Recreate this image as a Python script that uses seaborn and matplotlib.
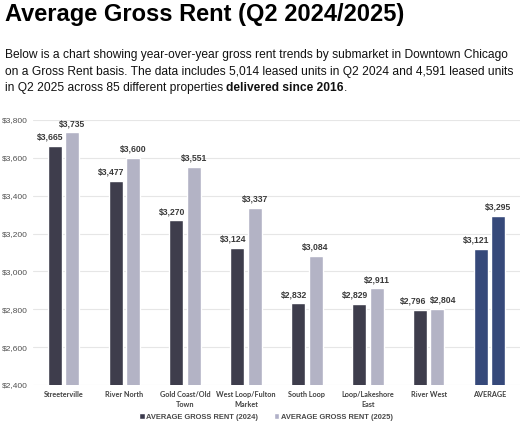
import pandas as pd
import seaborn as sns
import matplotlib.pyplot as plt
from matplotlib.patches import Patch

submarkets = ['Streeterville', 'River North', 'Gold Coast/Old\nTown', 'West Loop/Fulton\nMarket',
              'South Loop', 'Loop/Lakeshore\nEast', 'River West', 'AVERAGE']
rent_2024 = [3665, 3477, 3270, 3124, 2832, 2829, 2796, 3121]
rent_2025 = [3735, 3600, 3551, 3337, 3084, 2911, 2804, 3295]
series = ['AVERAGE GROSS RENT (2024)', 'AVERAGE GROSS RENT (2025)']
yticks = [2400, 2600, 2800, 3000, 3200, 3400, 3600, 3800]

df = pd.DataFrame({
    'submarket': submarkets * 2,
    'rent': rent_2024 + rent_2025,
    'series': [series[0]] * len(submarkets) + [series[1]] * len(submarkets),
})

sns.set_style('white')
plt.rcParams['font.family'] = ['Liberation Sans', 'DejaVu Sans']

c_dark = '#3c3b4e'
c_light = '#b0b0c8'
c_avg = '#36497a'

fig = plt.figure(figsize=(5.26, 4.26), dpi=100)
ax = fig.add_axes([33 / 526, 41 / 426, 487 / 526, 265 / 426])

sns.barplot(data=df, x='submarket', y='rent', hue='series', palette=[c_dark, c_light],
            width=0.574, gap=0.2, ax=ax, legend=False)

# average bars in navy
for cont in ax.containers:
    cont.patches[-1].set_facecolor(c_avg)

for i, cont in enumerate(ax.containers):
    for j, bar in enumerate(cont.patches):
        v = bar.get_height()
        close = abs(rent_2024[j] - rent_2025[j]) < 40
        if i == 0:
            dx = -5 if close else -3
        else:
            dx = 4 if close else 0
        ax.annotate(f'${v:,.0f}', (bar.get_x() + bar.get_width() / 2, v),
                    xytext=(dx, 3), textcoords='offset points', ha='center', va='bottom',
                    fontsize=6.2, fontweight='bold', color='#3a3a3a')

ax.set_ylim(2400, 3800)
ax.set_yticks(yticks)
ax.set_yticklabels([f'${t:,}' for t in yticks], fontsize=6, color='#505050')
ax.set_xlim(-0.5, len(submarkets) - 0.5)
ax.set_xticks(range(len(submarkets)))
ax.set_xticklabels(submarkets, fontsize=5.2, color='#404040', family=['Lato', 'DejaVu Sans'],
                   fontweight='bold', linespacing=1.5)
ax.tick_params(axis='both', length=0, pad=4)
ax.set_xlabel('')
ax.set_ylabel('')
ax.grid(axis='y', color='#e6e6e6', linewidth=0.8)
ax.set_axisbelow(True)
for s in ax.spines.values():
    s.set_visible(False)

handles = [Patch(facecolor=c_dark), Patch(facecolor=c_light)]
fig.legend(handles, series, loc='center', bbox_to_anchor=(266 / 526, 1 - 417 / 426), ncol=2,
           frameon=False, handlelength=0.75, handleheight=0.75, handletextpad=0.2, columnspacing=2.0,
           prop={'size': 5.4, 'weight': 'bold'}, labelcolor='#4a4a4a')

fig.text(5 / 526, 1 - 15 / 426, 'Average Gross Rent (Q2 2024/2025)', fontsize=17,
         fontweight='bold', va='center', ha='left', color='black')

lines = ['Below is a chart showing year-over-year gross rent trends by submarket in Downtown Chicago',
         'on a Gross Rent basis. The data includes 5,014 leased units in Q2 2024 and 4,591 leased units',
         'in Q2 2025 across 85 different properties ']
ys = [55, 72, 88]
fs = 8.66
renderer = fig.canvas.get_renderer()
for line, y in zip(lines, ys):
    t = fig.text(5 / 526, 1 - y / 426, line, fontsize=fs, va='center', ha='left', color='#111111')
last = t.get_window_extent(renderer)
b = fig.text(last.x1 / fig.bbox.width, 1 - ys[-1] / 426, 'delivered since 2016', fontsize=fs,
             fontweight='bold', va='center', ha='left', color='#111111')
bb = b.get_window_extent(renderer)
fig.text(bb.x1 / fig.bbox.width, 1 - ys[-1] / 426, '.', fontsize=fs, va='center', ha='left',
         color='#111111')

fig.savefig('out.png', dpi=100)
